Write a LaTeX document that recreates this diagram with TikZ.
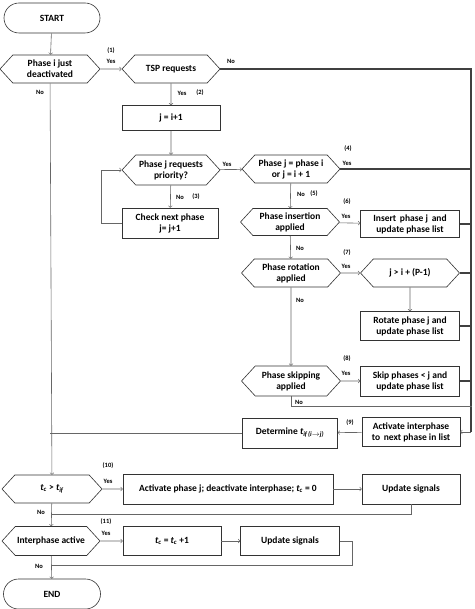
\documentclass[tikz,border=0pt]{standalone}
\usepackage{fontspec}
\setmainfont{Carlito}
\usetikzlibrary{arrows,positioning,shapes.misc,shapes.symbols}

\newcommand{\tvar}[1]{{\itshape t}\textsubscript{\itshape #1}}

\tikzset{
  base/.style={draw=black!80, line width=0.6pt, align=center, inner sep=1pt,
    font=\bfseries\fontsize{9.5}{11}\selectfont},
  term/.style={base, rounded rectangle, minimum width=98pt, minimum height=30pt},
  decision/.style={base, signal, signal to=east and west, signal pointer angle=95,
    minimum width=98pt, minimum height=28pt},
  process/.style={base, rectangle, minimum width=98pt, minimum height=28pt},
  lbl/.style={font=\bfseries\fontsize{6.5}{7}\selectfont, inner sep=0pt},
  flow/.style={draw=black!60, line width=0.6pt},
  arr/.style={flow, ->, >=to},
  bus/.style={draw=black!75, line width=1.2pt}
}

\begin{document}
\begin{tikzpicture}[x=1pt,y=-1pt]
	\useasboundingbox (0,0) rectangle (474,609);
	% left column
	\node[term] (start) at (52,18) {START};
	\node[decision, minimum width=100pt] (phi) at (50,69) {Phase i just\\deactivated};
	\node[decision, minimum width=100pt] (tc) at (52,489) {\tvar{c} > \tvar{if}};
	\node[decision, minimum height=29pt] (ipa) at (51,541) {Interphase active};
	\node[term, minimum width=99pt] (endn) at (52,594) {END};
	% second column
	\node[decision] (tsp) at (171,69) {TSP requests};
	\node[process, minimum height=25pt] (jset) at (171,118) {j = i+1};
	\node[decision, minimum height=30pt] (jreq) at (171,170) {Phase j requests\\priority?};
	\node[process, minimum width=96pt, minimum height=30pt] (chk) at (170,223) {Check next phase\\j= j+1};
	\node[process, minimum width=210pt, minimum height=30pt] (actj) at (228,489) {Activate phase j; deactivate interphase; \tvar{c} = 0};
	\node[process, minimum height=29pt] (tcc) at (172,541) {\tvar{c} = \tvar{c} +1};
	% third column
	\node[decision] (jeq) at (291,169) {Phase j = phase i\\or j = i + 1};
	\node[decision, minimum width=99pt, minimum height=27pt] (ins) at (290,222) {Phase insertion\\applied};
	\node[decision, minimum width=99pt] (rot) at (291,273) {Phase rotation\\applied};
	\node[decision, minimum width=99pt, minimum height=30pt] (skp) at (291,381) {Phase skipping\\applied};
	\node[process, minimum width=95pt, minimum height=30pt] (det) at (290,433) {Determine \tvar{if\,(i$\to$j)}};
	\node[process, minimum width=99pt, minimum height=29pt] (upd2) at (290,541) {Update signals};
	% fourth column
	\node[process, minimum width=99pt, minimum height=27pt] (insb) at (410,224) {Insert\, phase j\, and\\update phase list};
	\node[decision, minimum width=99pt] (jgt) at (410,273) {j > i + (P-1)};
	\node[process, minimum width=99pt, minimum height=29pt] (rotb) at (410,326) {Rotate phase j and\\update phase list};
	\node[process, minimum width=99pt, minimum height=30pt] (skpb) at (410,381) {Skip phases < j and\\update phase list};
	\node[process, minimum height=29pt] (act) at (411,432) {Activate interphase\\to\, next phase in list};
	\node[process, minimum height=30pt] (upd1) at (411,489) {Update signals};

	% main flow
	\draw[arr] (start) -- (phi);
	\draw[arr] (phi) -- (tsp);
	\draw[arr] (tsp) -- (jset);
	\draw[arr] (jset) -- (jreq);
	\draw[arr] (jreq) -- (jeq);
	\draw[arr] (jreq) -- (chk);
	\draw[arr] (chk.west) -- ++(-20,0) |- (jreq.west);
	\draw[arr] (jeq) -- (ins);
	\draw[arr] (ins) -- (insb);
	\draw[arr] (ins) -- (rot);
	\draw[arr] (rot) -- (jgt);
	\draw[arr] (jgt) -- (rotb);
	\draw[arr] (rot) -- (skp);
	\draw[arr] (skp) -- (skpb);
	% collecting line on the right
	\coordinate (bustop) at (471,69);
	\draw[bus] (tsp.east) -- (bustop) -- (bustop |- act.east);
	\draw[arr] (bustop |- act.east) -- (act.east);
	\foreach \n in {jeq,insb,jgt,rotb,skpb}
		\draw[bus] (\n.east) -- (bustop |- \n.east);
	\draw[flow] (skp.south) -- ++(0,10) -| (bustop |- 0,407);
	\draw[arr] (act) -- (det);
	\draw[arr] (phi) -- (tc);
	\draw[flow] (det.west) -- (phi.south |- det.west);
	% timing part
	\draw[arr] (tc) -- (actj);
	\draw[arr] (actj) -- (upd1);
	\draw[arr] (tc) -- (ipa);
	\draw[flow] (upd1.south) -- ++(0,10) -| (tc.south |- 0,514);
	\draw[arr] (ipa) -- (tcc);
	\draw[arr] (tcc) -- (upd2);
	\draw[flow] (upd2.east) -- ++(12,0) |- (ipa.south |- 0,565);
	\draw[arr] (ipa) -- (endn);

	% labels
	\node[lbl] at (111,51) {(1)};
	\node[lbl] at (111,61) {Yes};
	\node[lbl] at (231,61) {No};
	\node[lbl] at (40,92) {No};
	\node[lbl] at (182,93) {Yes};
	\node[lbl] at (200,93) {(2)};
	\node[lbl] at (227,164) {Yes};
	\node[lbl] at (180,197) {No};
	\node[lbl] at (196,197) {(3)};
	\node[lbl] at (348,149) {(4)};
	\node[lbl] at (347,163) {Yes};
	\node[lbl] at (301,194) {No};
	\node[lbl] at (314,194) {(5)};
	\node[lbl] at (347,202) {(6)};
	\node[lbl] at (346,216) {Yes};
	\node[lbl] at (300,248) {No};
	\node[lbl] at (347,253) {(7)};
	\node[lbl] at (346,266) {Yes};
	\node[lbl] at (300,300) {No};
	\node[lbl] at (347,359) {(8)};
	\node[lbl] at (346,373) {Yes};
	\node[lbl] at (299,402) {No};
	\node[lbl] at (350,423) {(9)};
	\node[lbl] at (108,466) {(10)};
	\node[lbl] at (108,481) {Yes};
	\node[lbl] at (41,512) {No};
	\node[lbl] at (106,522) {(11)};
	\node[lbl] at (106,533) {Yes};
	\node[lbl] at (39,566) {No};
\end{tikzpicture}
\end{document}
